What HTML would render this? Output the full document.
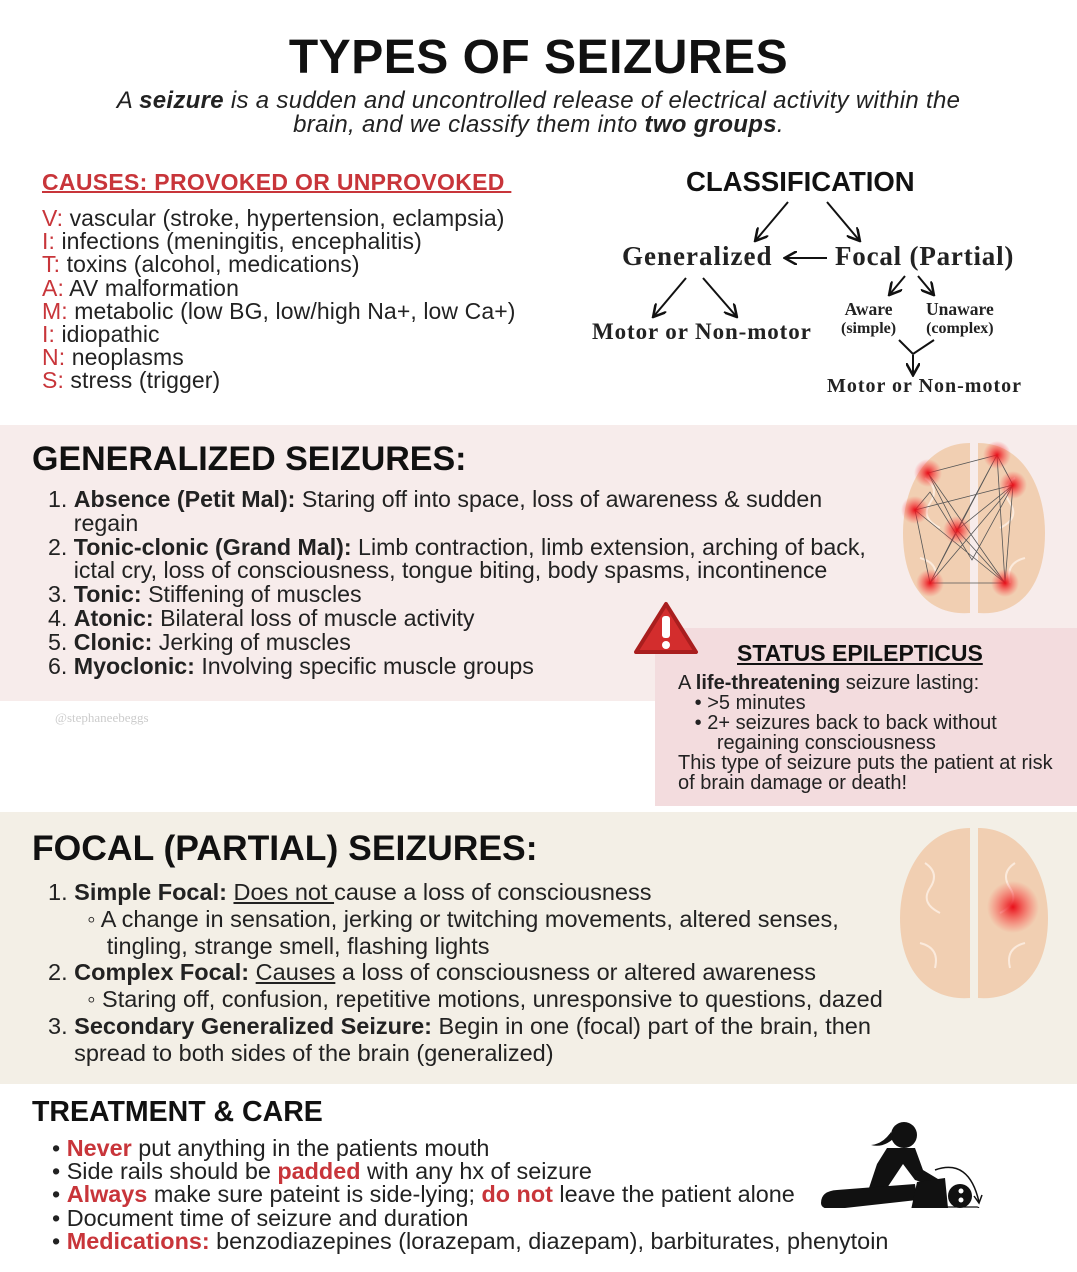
<!DOCTYPE html>
<html><head><meta charset="utf-8"><style>
body{margin:0;width:1077px;height:1272px;position:relative;background:#fff;font-family:"Liberation Sans",sans-serif;color:#222;overflow:hidden}
.a{position:absolute;white-space:nowrap}
.r{color:#c8353a}
.s{font-family:"Liberation Serif",serif;font-weight:bold;color:#222}
b{font-weight:bold}
</style></head><body>
<div class="a" style="left:0;top:425px;width:1077px;height:276px;background:#f7eceb"></div>
<div class="a" style="left:655px;top:628px;width:422px;height:178px;background:#f3dcde"></div>
<div class="a" style="left:0;top:812px;width:1077px;height:272px;background:#f3efe6"></div>

<div class="a" style="left:0;width:1077px;text-align:center;top:30px;font-size:48px;font-weight:bold;color:#111;letter-spacing:0.5px">TYPES OF SEIZURES</div>
<div class="a" style="left:0;width:1077px;text-align:center;top:89px;font-size:24px;font-style:italic;line-height:24px;color:#222;letter-spacing:0.3px">A <b>seizure</b> is a sudden and uncontrolled release of electrical activity within the<br>brain, and we classify them into <b>two groups</b>.</div>

<div class="a r" style="left:42px;top:169px;font-size:23px;font-weight:bold;text-decoration:underline;text-decoration-thickness:2px;letter-spacing:0.3px">CAUSES: PROVOKED OR UNPROVOKED&nbsp;</div>
<div class="a" style="left:42px;top:207px;font-size:23px;line-height:23.2px;letter-spacing:0.1px">
<span class="r">V:</span> vascular (stroke, hypertension, eclampsia)<br>
<span class="r">I:</span> infections (meningitis, encephalitis)<br>
<span class="r">T:</span> toxins (alcohol, medications)<br>
<span class="r">A:</span> AV malformation<br>
<span class="r">M:</span> metabolic (low BG, low/high Na+, low Ca+)<br>
<span class="r">I:</span> idiopathic<br>
<span class="r">N:</span> neoplasms<br>
<span class="r">S:</span> stress (trigger)</div>

<div class="a" style="left:686px;top:166px;font-size:27.5px;font-weight:bold;color:#111">CLASSIFICATION</div>
<div class="a s" style="left:622px;top:241px;font-size:27px;letter-spacing:1px">Generalized</div>
<div class="a s" style="left:835px;top:241px;font-size:27px;letter-spacing:0.8px">Focal (Partial)</div>
<div class="a s" style="left:592px;top:319px;font-size:23px;letter-spacing:0.9px">Motor or Non-motor</div>
<div class="a s" style="left:841px;top:300px;font-size:17.5px;line-height:18px;text-align:center">Aware<br><span style="font-size:16px">(simple)</span></div>
<div class="a s" style="left:926px;top:300px;font-size:17.5px;line-height:18px;text-align:center">Unaware<br><span style="font-size:16px">(complex)</span></div>
<div class="a s" style="left:827px;top:375px;font-size:20px;letter-spacing:1px">Motor or Non-motor</div>
<svg class="a" style="left:0;top:0" width="1077" height="420">
<defs><marker id="m" viewBox="0 0 10 10" refX="8" refY="5" markerWidth="7" markerHeight="7" orient="auto"><path d="M0,0 L9,5 L0,10" fill="none" stroke="#111" stroke-width="1.8"/></marker></defs>
<g stroke="#111" stroke-width="2" fill="none" marker-end="url(#m)">
<line x1="788" y1="202" x2="756" y2="240"/>
<line x1="827" y1="202" x2="859" y2="240"/>
<line x1="827" y1="258" x2="786" y2="258"/>
<line x1="686" y1="278" x2="654" y2="316"/>
<line x1="703" y1="278" x2="736" y2="316"/>
<line x1="905" y1="276" x2="890" y2="294"/>
<line x1="918" y1="276" x2="933" y2="294"/>
<line x1="913" y1="355" x2="913" y2="374"/>
</g>
<polyline points="899,340 913,354 934,340" stroke="#111" stroke-width="2" fill="none"/>
</svg>

<div class="a" style="left:32px;top:440px;font-size:34px;font-weight:bold;color:#111">GENERALIZED SEIZURES:</div>
<div class="a" style="left:48px;top:488px;font-size:23.2px;line-height:23.8px">
1. <b>Absence (Petit Mal):</b> Staring off into space, loss of awareness &amp; sudden<br>
&nbsp;&nbsp;&nbsp;&nbsp;regain<br>
2. <b>Tonic-clonic (Grand Mal):</b> Limb contraction, limb extension, arching of back,<br>
&nbsp;&nbsp;&nbsp;&nbsp;ictal cry, loss of consciousness, tongue biting, body spasms, incontinence<br>
3. <b>Tonic:</b> Stiffening of muscles<br>
4. <b>Atonic:</b> Bilateral loss of muscle activity<br>
5. <b>Clonic:</b> Jerking of muscles<br>
6. <b>Myoclonic:</b> Involving specific muscle groups</div>
<div class="a" style="left:55px;top:710px;font-size:13px;color:#ccc;font-family:'Liberation Serif',serif">@stephaneebeggs</div>

<svg class="a" style="left:895px;top:438px" width="160" height="180">
<defs><radialGradient id="g"><stop offset="0" stop-color="#e8101a"/><stop offset="1" stop-color="#ff4040" stop-opacity="0"/></radialGradient></defs>
<path d="M75,5 C30,5 8,50 8,95 C8,150 35,178 75,175 Z" fill="#f1cfb2"/>
<path d="M83,5 C128,5 150,50 150,95 C150,150 123,178 83,175 Z" fill="#f1cfb2"/>
<g stroke="#fbeadc" stroke-width="2" fill="none"><path d="M30,40 q15,10 5,25 q-10,15 10,25"/><path d="M120,40 q-15,10 -5,25 q10,15 -10,25"/><path d="M25,120 q20,5 15,25"/><path d="M130,120 q-20,5 -15,25"/></g>
<g stroke="#555" stroke-width="0.8" fill="none"><path d="M33,35 L102,17 L118,47 L77,122 L35,54 L20,72 L35,145 L62,92 L118,47 M33,35 L62,92 L102,17 L35,145 L118,47 M20,72 L118,47 M33,35 L110,145 L35,145 M62,92 L110,145 L118,47 M102,17 L110,145 M20,72 L110,145"/></g>
<g fill="url(#g)"><circle cx="33" cy="35" r="14"/><circle cx="102" cy="17" r="14"/><circle cx="118" cy="47" r="14"/><circle cx="20" cy="72" r="14"/><circle cx="62" cy="92" r="14"/><circle cx="35" cy="145" r="14"/><circle cx="110" cy="145" r="14"/></g>
</svg>

<svg class="a" style="left:632px;top:600px" width="68" height="56"><path d="M34,4 L64,52 L4,52 Z" fill="#d32d2d" stroke="#a91e1e" stroke-width="4" stroke-linejoin="round"/><rect x="30" y="16" width="8" height="22" rx="3" fill="#fff"/><circle cx="34" cy="45" r="4" fill="#fff"/></svg>
<div class="a" style="left:737px;top:640px;font-size:23px;font-weight:bold;color:#111;text-decoration:underline">STATUS EPILEPTICUS</div>
<div class="a" style="left:678px;top:673px;font-size:20px;line-height:20px">A <b>life-threatening</b> seizure lasting:<br>
&nbsp;&nbsp;&nbsp;• &gt;5 minutes<br>
&nbsp;&nbsp;&nbsp;• 2+ seizures back to back without<br>
&nbsp;&nbsp;&nbsp;&nbsp;&nbsp;&nbsp;&nbsp;regaining consciousness<br>
This type of seizure puts the patient at risk<br>of brain damage or death!</div>

<div class="a" style="left:32px;top:828px;font-size:35.5px;font-weight:bold;color:#111">FOCAL (PARTIAL) SEIZURES:</div>
<div class="a" style="left:48px;top:879px;font-size:23.5px;line-height:26.8px">
1. <b>Simple Focal:</b> <u>Does not </u>cause a loss of consciousness<br>
&nbsp;&nbsp;&nbsp;&nbsp;&nbsp;&nbsp;◦ A change in sensation, jerking or twitching movements, altered senses,<br>
&nbsp;&nbsp;&nbsp;&nbsp;&nbsp;&nbsp;&nbsp;&nbsp;&nbsp;tingling, strange smell, flashing lights<br>
2. <b>Complex Focal:</b> <u>Causes</u> a loss of consciousness or altered awareness<br>
&nbsp;&nbsp;&nbsp;&nbsp;&nbsp;&nbsp;◦ Staring off, confusion, repetitive motions, unresponsive to questions, dazed<br>
3. <b>Secondary Generalized Seizure:</b> Begin in one (focal) part of the brain, then<br>
&nbsp;&nbsp;&nbsp;&nbsp;spread to both sides of the brain (generalized)</div>
<svg class="a" style="left:895px;top:823px" width="160" height="180">
<path d="M75,5 C30,5 5,50 5,95 C5,150 35,178 75,175 Z" fill="#f1cfb2"/>
<path d="M83,5 C128,5 153,50 153,95 C153,150 123,178 83,175 Z" fill="#f1cfb2"/>
<g stroke="#fbeadc" stroke-width="2" fill="none"><path d="M30,40 q15,10 5,25 q-10,15 10,25"/><path d="M120,40 q-15,10 -5,25 q10,15 -10,25"/><path d="M25,120 q20,5 15,25"/><path d="M130,120 q-20,5 -15,25"/></g>
<circle cx="118" cy="84" r="26" fill="url(#g)"/>
</svg>

<div class="a" style="left:32px;top:1096px;font-size:28.5px;font-weight:bold;color:#111">TREATMENT &amp; CARE</div>
<div class="a" style="left:52px;top:1137px;font-size:23.4px;line-height:23.2px">
• <span class="r"><b>Never</b></span> put anything in the patients mouth<br>
• Side rails should be <span class="r"><b>padded</b></span> with any hx of seizure<br>
• <span class="r"><b>Always</b></span> make sure pateint is side-lying; <span class="r"><b>do not</b></span> leave the patient alone<br>
• Document time of seizure and duration<br>
• <span class="r"><b>Medications:</b></span> benzodiazepines (lorazepam, diazepam), barbiturates, phenytoin</div>

<svg class="a" style="left:815px;top:1108px" width="170" height="100">
<g fill="#111">
<circle cx="89" cy="27" r="13"/>
<path d="M76,24 q-8,12 -20,13 q12,3 22,-6z"/>
<path d="M72,40 L100,40 L108,62 L128,74 L124,80 L100,72 L88,56 L72,80 L54,80 L62,56 Z"/>
<path d="M6,95 q0,-12 16,-13 L100,76 L102,92 L30,100 q-24,4 -24,-5z"/>
<path d="M102,74 L130,70 L133,100 L96,102 Z"/>
<circle cx="145" cy="88" r="12"/>
</g>
<circle cx="146" cy="83" r="2.5" fill="#fff"/><circle cx="146" cy="92" r="2.5" fill="#fff"/>
<rect x="128" y="99" width="36" height="5" rx="2" fill="none" stroke="#111" stroke-width="1.2"/>
<path d="M120,62 q34,-12 44,32" fill="none" stroke="#111" stroke-width="1.5"/><path d="M159,88 l5,7 l3,-8" fill="none" stroke="#111" stroke-width="1.5"/>
</svg>
</body></html>
